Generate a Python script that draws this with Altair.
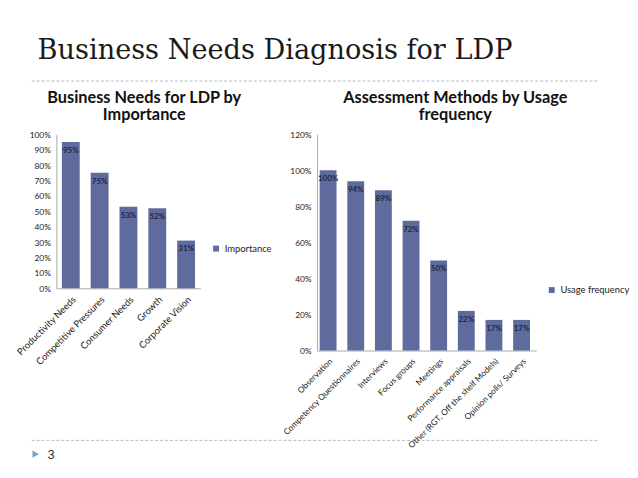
import altair as alt
import pandas as pd

# ---- data ----
needs = ["Productivity Needs", "Competitive Pressures", "Consumer Needs", "Growth", "Corporate Vision"]
importance = [0.95, 0.75, 0.53, 0.52, 0.31]

methods = ["Observation", "Competency Questionnaires", "Interviews", "Focus groups", "Meetings",
           "Performance appraisals", "Other (RGT, Off the shelf Models)", "Opinion polls/ Surveys"]
usage = [1.00, 0.94, 0.89, 0.72, 0.50, 0.22, 0.17, 0.17]

left_ticks = [0, 0.1, 0.2, 0.3, 0.4, 0.5, 0.6, 0.7, 0.8, 0.9, 1.0]
right_ticks = [0, 0.2, 0.4, 0.6, 0.8, 1.0, 1.2]

slide_title = "Business Needs Diagnosis for LDP"
left_title = ["Business Needs for LDP by", "Importance"]
right_title = ["Assessment Methods by Usage", "frequency"]
page_number = "3"

BAR = "#5f6b9d"
LBL = "#1c2542"
AXC = "#a9a9a9"
FONT = "Lato"

df_left = pd.DataFrame({"category": needs, "value": importance, "series": "Importance"})
df_right = pd.DataFrame({"category": methods, "value": usage, "series": "Usage frequency"})
one = pd.DataFrame({"k": [0]})


def bar_panel(df, order, ticks, ymax, xpad_in, xpad_out, xalign, xfs, legx, legy):
    xscale = alt.Scale(paddingInner=xpad_in, paddingOuter=xpad_out, align=xalign)
    yscale = alt.Scale(domain=[0, ymax], nice=False)
    x = alt.X("category:N", sort=order, scale=xscale,
              axis=alt.Axis(title=None, labelAngle=-45, ticks=False, domainColor=AXC,
                            labelFont=FONT, labelFontSize=xfs, labelColor="#222222",
                            labelPadding=6, labelLimit=300, labelOverlap=False))
    y = alt.Y("value:Q", scale=yscale,
              axis=alt.Axis(title=None, values=ticks, format=".0%", grid=False, ticks=False,
                            domainColor=AXC, labelFont=FONT, labelFontSize=8.5,
                            labelColor="#222222", labelPadding=6, labelOverlap=False))
    bars = alt.Chart(df).mark_bar().encode(
        x=x, y=y,
        color=alt.Color("series:N", scale=alt.Scale(range=[BAR]),
                        legend=alt.Legend(title=None, orient="none", legendX=legx, legendY=legy,
                                          symbolType="square", symbolSize=36, symbolStrokeWidth=0,
                                          labelFont=FONT, labelFontSize=9.5, labelColor="#222222",
                                          labelOffset=4, padding=0)))
    labels = alt.Chart(df).mark_text(baseline="middle", dy=9, font=FONT, fontSize=8,
                                     fontWeight="bold", color=LBL).encode(
        x=x, y=y, text=alt.Text("value:Q", format=".0%"))
    return bars, labels


lb, ll = bar_panel(df_left, needs, left_ticks, 1.0, 0.38, 0.19, 0.5, 9.5, 157, 111)
rb, rl = bar_panel(df_right, methods, right_ticks, 1.2, 0.39, 0.16, 0.3, 8.5, 233, 153)

# ---- slide decorations (pixel positions relative to the left plot origin) ----
def txt(s, x, y, **kw):
    return alt.Chart(one).mark_text(text=s, **kw).encode(x=alt.value(x), y=alt.value(y))


def rule(x1, x2, y, **kw):
    return alt.Chart(one).mark_rule(**kw).encode(x=alt.value(x1), x2=alt.value(x2), y=alt.value(y))


anchor = alt.Chart(one).mark_rect(opacity=0).encode(
    x=alt.value(-49), x2=alt.value(-45), y=alt.value(-125), y2=alt.value(-121))

TS = 16.5
deco = [
    anchor,
    txt(slide_title, -19, -76, align="left", baseline="alphabetic", font="DejaVu Serif",
        fontSize=27.5, color="#1a1a1a"),
    rule(-25, 550, -54, color="#a9bccd", strokeDash=[3, 2], strokeWidth=1),
    rule(-25, 550, 310, color="#a9bccd", strokeDash=[3, 2], strokeWidth=1),
    alt.Chart(one).mark_point(shape="triangle-right", filled=True, size=55, color="#7f9fc2",
                              opacity=1).encode(x=alt.value(-21), y=alt.value(324)),
    txt(page_number, -9, 329, align="left", baseline="alphabetic", font="Liberation Sans",
        fontSize=13, color="#333333"),
    txt(left_title[0], 89, -32, align="center", baseline="alphabetic", font=FONT, fontSize=TS,
        fontWeight="bold", color="#111111"),
    txt(left_title[1], 89, -14, align="center", baseline="alphabetic", font=FONT, fontSize=TS,
        fontWeight="bold", color="#111111"),
    txt(right_title[0], 404, -32, align="center", baseline="alphabetic", font=FONT, fontSize=TS,
        fontWeight="bold", color="#111111"),
    txt(right_title[1], 404, -14, align="center", baseline="alphabetic", font=FONT, fontSize=TS,
        fontWeight="bold", color="#111111"),
]

left = alt.layer(lb, ll, *deco).properties(width=146, height=156)
right = alt.layer(rb, rl).properties(width=222, height=219)

chart = alt.hconcat(left, right, spacing=118, bounds="flush").resolve_scale(
    color="independent").properties(padding=0).configure_view(strokeWidth=0)

chart.save("out.html", embed_options={"renderer": "svg", "actions": False})
